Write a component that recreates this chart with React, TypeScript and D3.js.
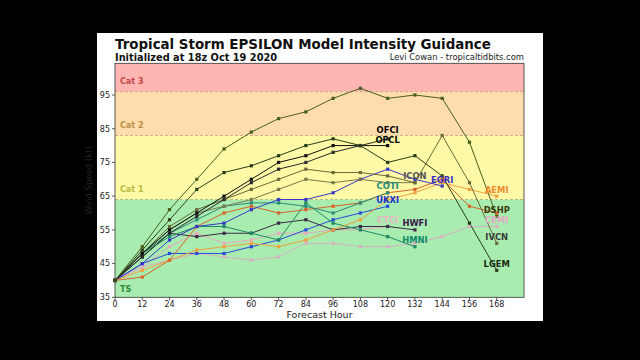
import React from "react";
import * as d3 from "d3";

// ---- data ----
const hours = [0, 12, 24, 36, 48, 60, 72, 84, 96, 108, 120, 132, 144, 156, 168];
const xTicks = [0, 12, 24, 36, 48, 60, 72, 84, 96, 108, 120, 132, 144, 156, 168];
const yTicks = [35, 45, 55, 65, 75, 85, 95];

const dshp = [40, 50, 61, 70, 79, 84, 88, 90, 94, 97, 94, 95, 94, 81, 59];
const lgem = [40, 49, 58, 67, 72, 74, 77, 80, 82, 80, 75, 77, 71, 57, 43];
const ofcl = [40, 48, 55, 60, 65, 70, 75, 77, 80, 80, 80];
const ofci = [40, 47, 54, 59, 64, 69, 73, 75, 78, 80, 82];
const ivcn = [40, 48, 56, 61, 64, 67, 70, 73, 72, 72, 71, 69, 83, 69, 51];
const icon = [40, 48, 55, 60, 62, 64, 67, 70, 69, 70, 69, 69];
const egri = [40, 45, 52, 56, 57, 61, 64, 64, 66, 70, 73, 70, 68];
const ukxi = [40, 45, 48, 48, 48, 50, 52, 55, 58, 60, 62];
const coti = [40, 48, 54, 58, 62, 63, 63, 62, 60, 63, 66];
const hmni = [40, 48, 53, 56, 56, 54, 52, 63, 57, 55, 53, 50];
const hwfi = [40, 47, 54, 53, 54, 54, 57, 58, 55, 56, 56, 55];
const ctci = [40, 44, 50, 54, 51, 52, 54, 54, 55, 55, 56];
const cemi = [40, 44, 46, 48, 47, 46, 47, 51, 51, 50, 50, 51, 53, 56, 56];
const aemi = [40, 43, 46, 49, 50, 51, 50, 52, 55, 58, 64, 66, 69, 67, 65];
const hwrf = [40, 41, 46, 56, 60, 62, 60, 61, 62, 63, 66, 67, 70, 62, 60];

const modelNames = ["CEMI", "CTCI", "UKXI", "HWFI", "HMNI", "AEMI", "HWRF", "COTI", "EGRI", "ICON", "IVCN", "OFCI", "OFCL", "LGEM", "DSHP"];
const modelValues = [cemi, ctci, ukxi, hwfi, hmni, aemi, hwrf, coti, egri, icon, ivcn, ofci, ofcl, lgem, dshp];

const bandNames = ["TS", "Cat 1", "Cat 2", "Cat 3"];
const bandLow = [35, 64, 83, 96];
const bandHigh = [64, 83, 96, 104.4];

// ---- styles ----
const lineColor: Record<string, string> = {
  DSHP: "#4a5f1c",
  LGEM: "#2a3d18",
  OFCL: "#111111",
  OFCI: "#2a2a2a",
  IVCN: "#6a6a3a",
  ICON: "#7a7a50",
  EGRI: "#3838c8",
  UKXI: "#2a4ad8",
  COTI: "#2a8c78",
  HMNI: "#1e8c64",
  HWFI: "#3a2a48",
  CTCI: "#e8a8bc",
  CEMI: "#d8b0c0",
  AEMI: "#f0a040",
  HWRF: "#d8642a",
};
const labelColor: Record<string, string> = {
  DSHP: "#3a3a0a",
  LGEM: "#1a2a10",
  OFCL: "#000000",
  OFCI: "#000000",
  IVCN: "#3a3a3a",
  ICON: "#555555",
  EGRI: "#3a30c0",
  UKXI: "#2030d0",
  COTI: "#208878",
  HMNI: "#108a68",
  HWFI: "#3a1a4a",
  CTCI: "#eab4c4",
  CEMI: "#e8a8c8",
  AEMI: "#f08a30",
};
const labelDy: Record<string, number> = { OFCI: -2, OFCL: 1 };
const bandFill = ["#a8ecb0", "#fdf9a6", "#ffdcac", "#ffb5b2"];
const bandText = ["#2e8b3a", "#b8b840", "#b89048", "#c04848"];

const W = 640;
const H = 360;
const left = 115;
const right = 524;
const top = 63.3;
const bottom = 297.3;

export default function App() {
  const x = d3.scaleLinear().domain([0, 180]).range([left, right]);
  const y = d3.scaleLinear().domain([35, 104.4]).range([bottom, top]);
  const line = d3
    .line<number>()
    .x((_, i) => x(hours[i]))
    .y((v) => y(v));

  const font = "DejaVu Sans, sans-serif";

  return (
    <svg width={W} height={H} style={{ position: "absolute", left: 0, top: 0, background: "#000" }} fontFamily={font}>
      <rect x={0} y={0} width={W} height={H} fill="#000" />
      <rect x={97} y={33} width={446} height={288} fill="#fff" />
      <text x={115} y={48.5} fontSize={13.4} fontWeight="bold" fill="#111">
        Tropical Storm EPSILON Model Intensity Guidance
      </text>
      <text x={115} y={60.5} fontSize={9.8} fontWeight="bold" fill="#111">
        Initialized at 18z Oct 19 2020
      </text>
      <text x={right} y={60} fontSize={8.4} textAnchor="end" fill="#222">
        Levi Cowan - tropicaltidbits.com
      </text>

      {/* intensity bands */}
      {bandNames.map((b, i) => (
        <rect key={b} x={left} y={y(bandHigh[i])} width={right - left} height={y(bandLow[i]) - y(bandHigh[i])} fill={bandFill[i]} />
      ))}
      {bandLow.slice(1).map((v, i) => (
        <line key={v} x1={left} x2={right} y1={y(v)} y2={y(v)} stroke={i === 0 ? "#9ab070" : "#c89a70"} strokeWidth={0.8} strokeDasharray="3,2" />
      ))}
      {bandNames.map((b, i) => (
        <text key={b} x={left + 5} y={y(bandLow[i] + (i === 0 ? 1.5 : 2.2))} fontSize={8} fontWeight="bold" fill={bandText[i]}>
          {b}
        </text>
      ))}

      {/* model lines */}
      {modelNames.map((m, k) => (
        <path key={m} d={line(modelValues[k]) || ""} fill="none" stroke={lineColor[m]} strokeWidth={1} />
      ))}
      {modelNames.map((m, k) =>
        modelValues[k].map((v, i) => (
          <rect key={m + i} x={x(hours[i]) - 1.6} y={y(v) - 1.6} width={3.2} height={3.2} fill={lineColor[m]} />
        ))
      )}
      {modelNames.map((m, k) => {
        if (!labelColor[m]) return null;
        const vals = modelValues[k];
        const i = vals.length - 1;
        return (
          <text key={m + "l"} x={x(hours[i])} y={y(vals[i]) - 3.5 + (labelDy[m] || 0)} fontSize={8.4} fontWeight="bold" textAnchor="middle" fill={labelColor[m]}>
            {m}
          </text>
        );
      })}

      {/* frame & axes */}
      <rect x={left} y={top} width={right - left} height={bottom - top} fill="none" stroke="#333" strokeWidth={0.8} />
      {yTicks.map((t) => (
        <g key={t}>
          <line x1={left - 3} x2={left} y1={y(t)} y2={y(t)} stroke="#333" strokeWidth={0.8} />
          <text x={left - 5} y={y(t) + 2.8} fontSize={8} textAnchor="end" fill="#222">
            {t}
          </text>
        </g>
      ))}
      {xTicks.map((t) => (
        <g key={t}>
          <line x1={x(t)} x2={x(t)} y1={bottom} y2={bottom + 3} stroke="#333" strokeWidth={0.8} />
          <text x={x(t)} y={bottom + 10} fontSize={8} textAnchor="middle" fill="#222">
            {t}
          </text>
        </g>
      ))}
      <text x={(left + right) / 2} y={317.5} fontSize={9.5} textAnchor="middle" fill="#222">
        Forecast Hour
      </text>
      <text transform={`translate(92, ${(top + bottom) / 2}) rotate(-90)`} fontSize={8.5} textAnchor="middle" fill="#222">
        Wind Speed (kt)
      </text>
    </svg>
  );
}
